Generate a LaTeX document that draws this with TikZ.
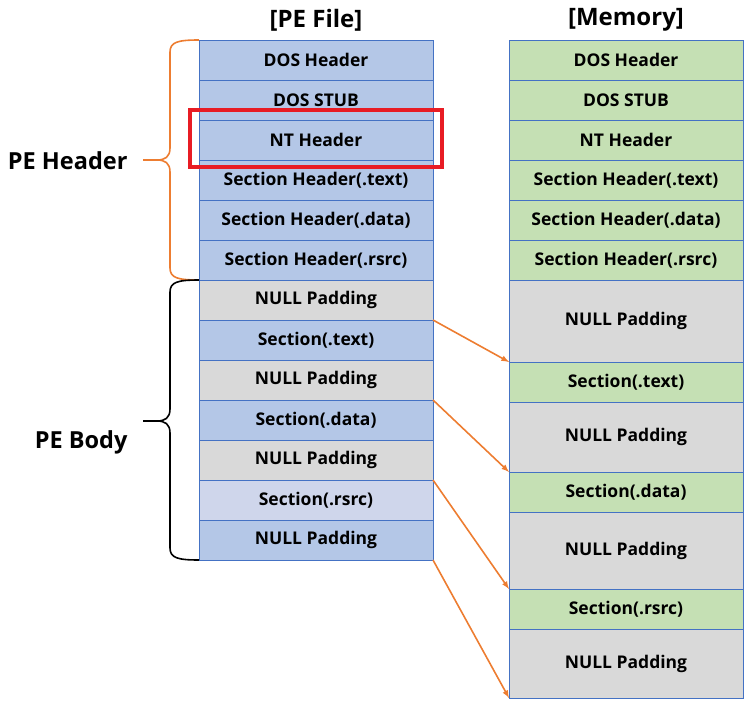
\documentclass[tikz,border=0pt]{standalone}
\usepackage{fontspec}
\setmainfont{Open Sans}
\usetikzlibrary{arrows,positioning}
\definecolor{cellborder}{HTML}{4472C4}
\definecolor{fileblue}{HTML}{B4C7E7}
\definecolor{rsrcblue}{HTML}{CFD6EB}
\definecolor{padgray}{HTML}{D9D9D9}
\definecolor{memgreen}{HTML}{C5E0B4}
\definecolor{linkorange}{HTML}{ED7D31}
\definecolor{markred}{HTML}{E81C24}
\begin{document}
\begin{tikzpicture}[x=1pt,y=-1pt,
  cell/.style={draw=cellborder,line width=1pt,minimum width=234pt,minimum height=40pt,
    inner sep=0pt,outer sep=0pt,font=\fontsize{17.5}{20}\selectfont\bfseries},
  file/.style={cell,fill=fileblue},
  pad/.style={cell,fill=padgray},
  mem/.style={cell,fill=memgreen},
  title/.style={font=\fontsize{24}{28}\selectfont\bfseries},
  side/.style={font=\fontsize{23.5}{28}\selectfont\bfseries,anchor=east},
  map/.style={-latex,draw=linkorange,line width=1.6pt},
  brace/.style={line width=1.6pt}]
\useasboundingbox (0,0) rectangle (749,704);
% PE file on disk
\node[file,anchor=north west] (f1) at (199,40) {DOS Header};
\node[file,below=0pt of f1] (f2) {DOS STUB};
\node[file,below=0pt of f2] (f3) {NT Header};
\node[file,below=0pt of f3] (f4) {Section Header(.text)};
\node[file,below=0pt of f4] (f5) {Section Header(.data)};
\node[file,below=0pt of f5] (f6) {Section Header(.rsrc)};
\node[pad,below=0pt of f6] (f7) {NULL Padding};
\node[file,below=0pt of f7] (f8) {Section(.text)};
\node[pad,below=0pt of f8] (f9) {NULL Padding};
\node[file,below=0pt of f9] (f10) {Section(.data)};
\node[pad,below=0pt of f10] (f11) {NULL Padding};
\node[cell,fill=rsrcblue,below=0pt of f11] (f12) {Section(.rsrc)};
\node[file,below=0pt of f12] (f13) {NULL Padding};
% mapped in memory
\node[mem,anchor=north west] (m1) at (509,40) {DOS Header};
\node[mem,below=0pt of m1] (m2) {DOS STUB};
\node[mem,below=0pt of m2] (m3) {NT Header};
\node[mem,below=0pt of m3] (m4) {Section Header(.text)};
\node[mem,below=0pt of m4] (m5) {Section Header(.data)};
\node[mem,below=0pt of m5] (m6) {Section Header(.rsrc)};
\node[pad,minimum height=82pt,below=0pt of m6] (m7) {NULL Padding};
\node[mem,below=0pt of m7] (m8) {Section(.text)};
\node[pad,minimum height=70pt,below=0pt of m8] (m9) {NULL Padding};
\node[mem,below=0pt of m9] (m10) {Section(.data)};
\node[pad,minimum height=77pt,below=0pt of m10] (m11) {NULL Padding};
\node[mem,below=0pt of m11] (m12) {Section(.rsrc)};
\node[pad,minimum height=69pt,below=0pt of m12] (m13) {NULL Padding};
% titles
\node[title] (filetitle) at (316,20) {[PE File]};
\node[title] (memtitle) at (626,20) {[Memory]};
% section mapping
\draw[map] (f7.south east) -- (m7.south west);
\draw[map] (f9.south east) -- (m9.south west);
\draw[map] (f11.south east) -- (m11.south west);
\draw[map] (f13.south east) -- (m13.south west);
% braces
\draw[brace,linkorange] (f1.north west) .. controls (178,40) and (170,42) .. (170,52)
  -- (170,148) .. controls (170,157) and (165,160) .. (157,160) -- (143,160)
  (157,160) .. controls (165,160) and (170,163) .. (170,172)
  -- (170,268) .. controls (170,278) and (178,280) .. (f6.south west);
\draw[brace,black] (f7.north west) .. controls (178,280) and (170,282) .. (170,292)
  -- (170,409) .. controls (170,418) and (165,421) .. (157,421) -- (143,421)
  (157,421) .. controls (165,421) and (170,424) .. (170,433)
  -- (170,548) .. controls (170,558) and (178,560) .. (f13.south west);
\node[side] (hdrlabel) at (131,161) {PE Header};
\node[side] (bodylabel) at (131,442) {PE Body};
% NT header mark
\draw[markred,line width=4pt] (190,110) rectangle (442,167);
\end{tikzpicture}
\end{document}
